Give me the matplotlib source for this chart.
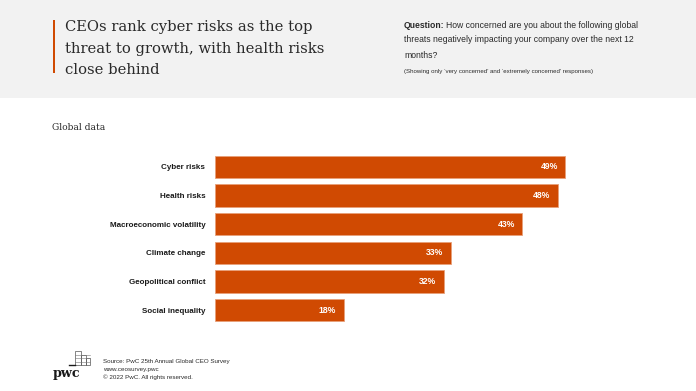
import matplotlib
matplotlib.use("Agg")
import matplotlib.pyplot as plt
from matplotlib.patches import Rectangle

categories = ["Cyber risks", "Health risks", "Macroeconomic volatility",
              "Climate change", "Geopolitical conflict", "Social inequality"]
values = [49, 48, 43, 33, 32, 18]
value_labels = ["49%", "48%", "43%", "33%", "32%", "18%"]

title_lines = ["CEOs rank cyber risks as the top",
               "threat to growth, with health risks",
               "close behind"]
question_lines = ["How concerned are you about the following global",
                  "threats negatively impacting your company over the next 12",
                  "months?"]
note = "(Showing only \u2018very concerned\u2019 and \u2018extremely concerned\u2019 responses)"
section = "Global data"
footer = ["Source: PwC 25th Annual Global CEO Survey", "www.ceosurvey.pwc",
          "\u00a9 2022 PwC. All rights reserved."]

W, H = 696, 391
ORANGE = "#d04a02"
TEXT = "#2a2a2a"
fig = plt.figure(figsize=(W / 100, H / 100), dpi=100)
fig.patch.set_facecolor("white")

def px(x, y):
    return x / W, 1 - y / H

# header band
fig.patches.append(Rectangle((0, 1 - 98 / H), 1, 98 / H, transform=fig.transFigure,
                             facecolor="#f2f2f2", edgecolor="none", zorder=0))
# orange accent line
fig.patches.append(Rectangle(px(52.5, 73), 2.5 / W, 53 / H, transform=fig.transFigure,
                             facecolor=ORANGE, edgecolor="none", zorder=1))

serif = ["DejaVu Serif"]
sans = ["Liberation Sans", "DejaVu Sans"]

for i, line in enumerate(title_lines):
    fig.text(*px(65, 31.5 + i * 21), line, ha="left", va="baseline", fontsize=10.6,
             family=serif, color=TEXT)

# question
qfs = 6.2
fig.text(*px(404, 25), "Question:", ha="left", va="center", fontsize=qfs,
         family=sans, weight="bold", color=TEXT)
fig.text(*px(446.5, 25), question_lines[0], ha="left", va="center", fontsize=qfs,
         family=sans, color=TEXT)
fig.text(*px(404, 40), question_lines[1], ha="left", va="center", fontsize=qfs,
         family=sans, color=TEXT)
fig.text(*px(404, 55), question_lines[2], ha="left", va="center", fontsize=qfs,
         family=sans, color=TEXT)
fig.text(*px(404, 71.5), note, ha="left", va="center", fontsize=4.4,
         family=sans, color=TEXT)

fig.text(*px(52, 127), section, ha="left", va="center", fontsize=6.6,
         family=serif, color=TEXT)

# bar chart
left, right = 215, 644
top, bottom = 152.5, 324.5
ax = fig.add_axes([left / W, 1 - bottom / H, (right - left) / W, (bottom - top) / H])
ax.set_facecolor("none")
ypos = list(range(len(categories)))
ax.barh(ypos, values, height=0.77, color=ORANGE, edgecolor="#e8a07a", linewidth=0.6)
ax.set_xlim(0, 60)
ax.set_ylim(len(categories) - 0.5, -0.5)
ax.set_yticks(ypos)
ax.set_yticklabels(categories, fontsize=5.8, family=sans, weight="bold", color="#1a1a1a")
ax.tick_params(axis="y", length=0, pad=7)
ax.set_xticks([])
for s in ax.spines.values():
    s.set_visible(False)
for y, v, lab in zip(ypos, values, value_labels):
    ax.annotate(lab, (v, y), xytext=(-5.5, 0), textcoords="offset points",
                ha="right", va="center", fontsize=6.2, family=sans,
                weight="bold", color="white")

# footer
for i, line in enumerate(footer):
    fig.text(*px(103, 361 + i * 8.2), line, ha="left", va="center", fontsize=4.5,
             family=sans, color=TEXT)

# pwc logo
fig.text(*px(52.5, 377), "pwc", ha="left", va="baseline", fontsize=9.2,
         family=["DejaVu Serif"], weight="bold", color="#1a1a1a")
for (x0, y0, w, h) in [(75, 351, 6, 14), (81, 355, 5, 10), (86, 358, 4, 7)]:
    fig.patches.append(Rectangle(px(x0, y0 + h), w / W, h / H, transform=fig.transFigure,
                                 facecolor="none", edgecolor="#555555", linewidth=0.5))
for yy in (355, 358, 361.5):
    fig.lines.append(plt.Line2D([75 / W, 90 / W], [1 - yy / H, 1 - yy / H],
                                transform=fig.transFigure, color="#777777", linewidth=0.4))
fig.lines.append(plt.Line2D([69 / W, 75 / W], [1 - 364.5 / H, 1 - 364.5 / H],
                            transform=fig.transFigure, color="#1a1a1a", linewidth=1.0))

fig.savefig("out.png", dpi=100, facecolor=fig.get_facecolor())
